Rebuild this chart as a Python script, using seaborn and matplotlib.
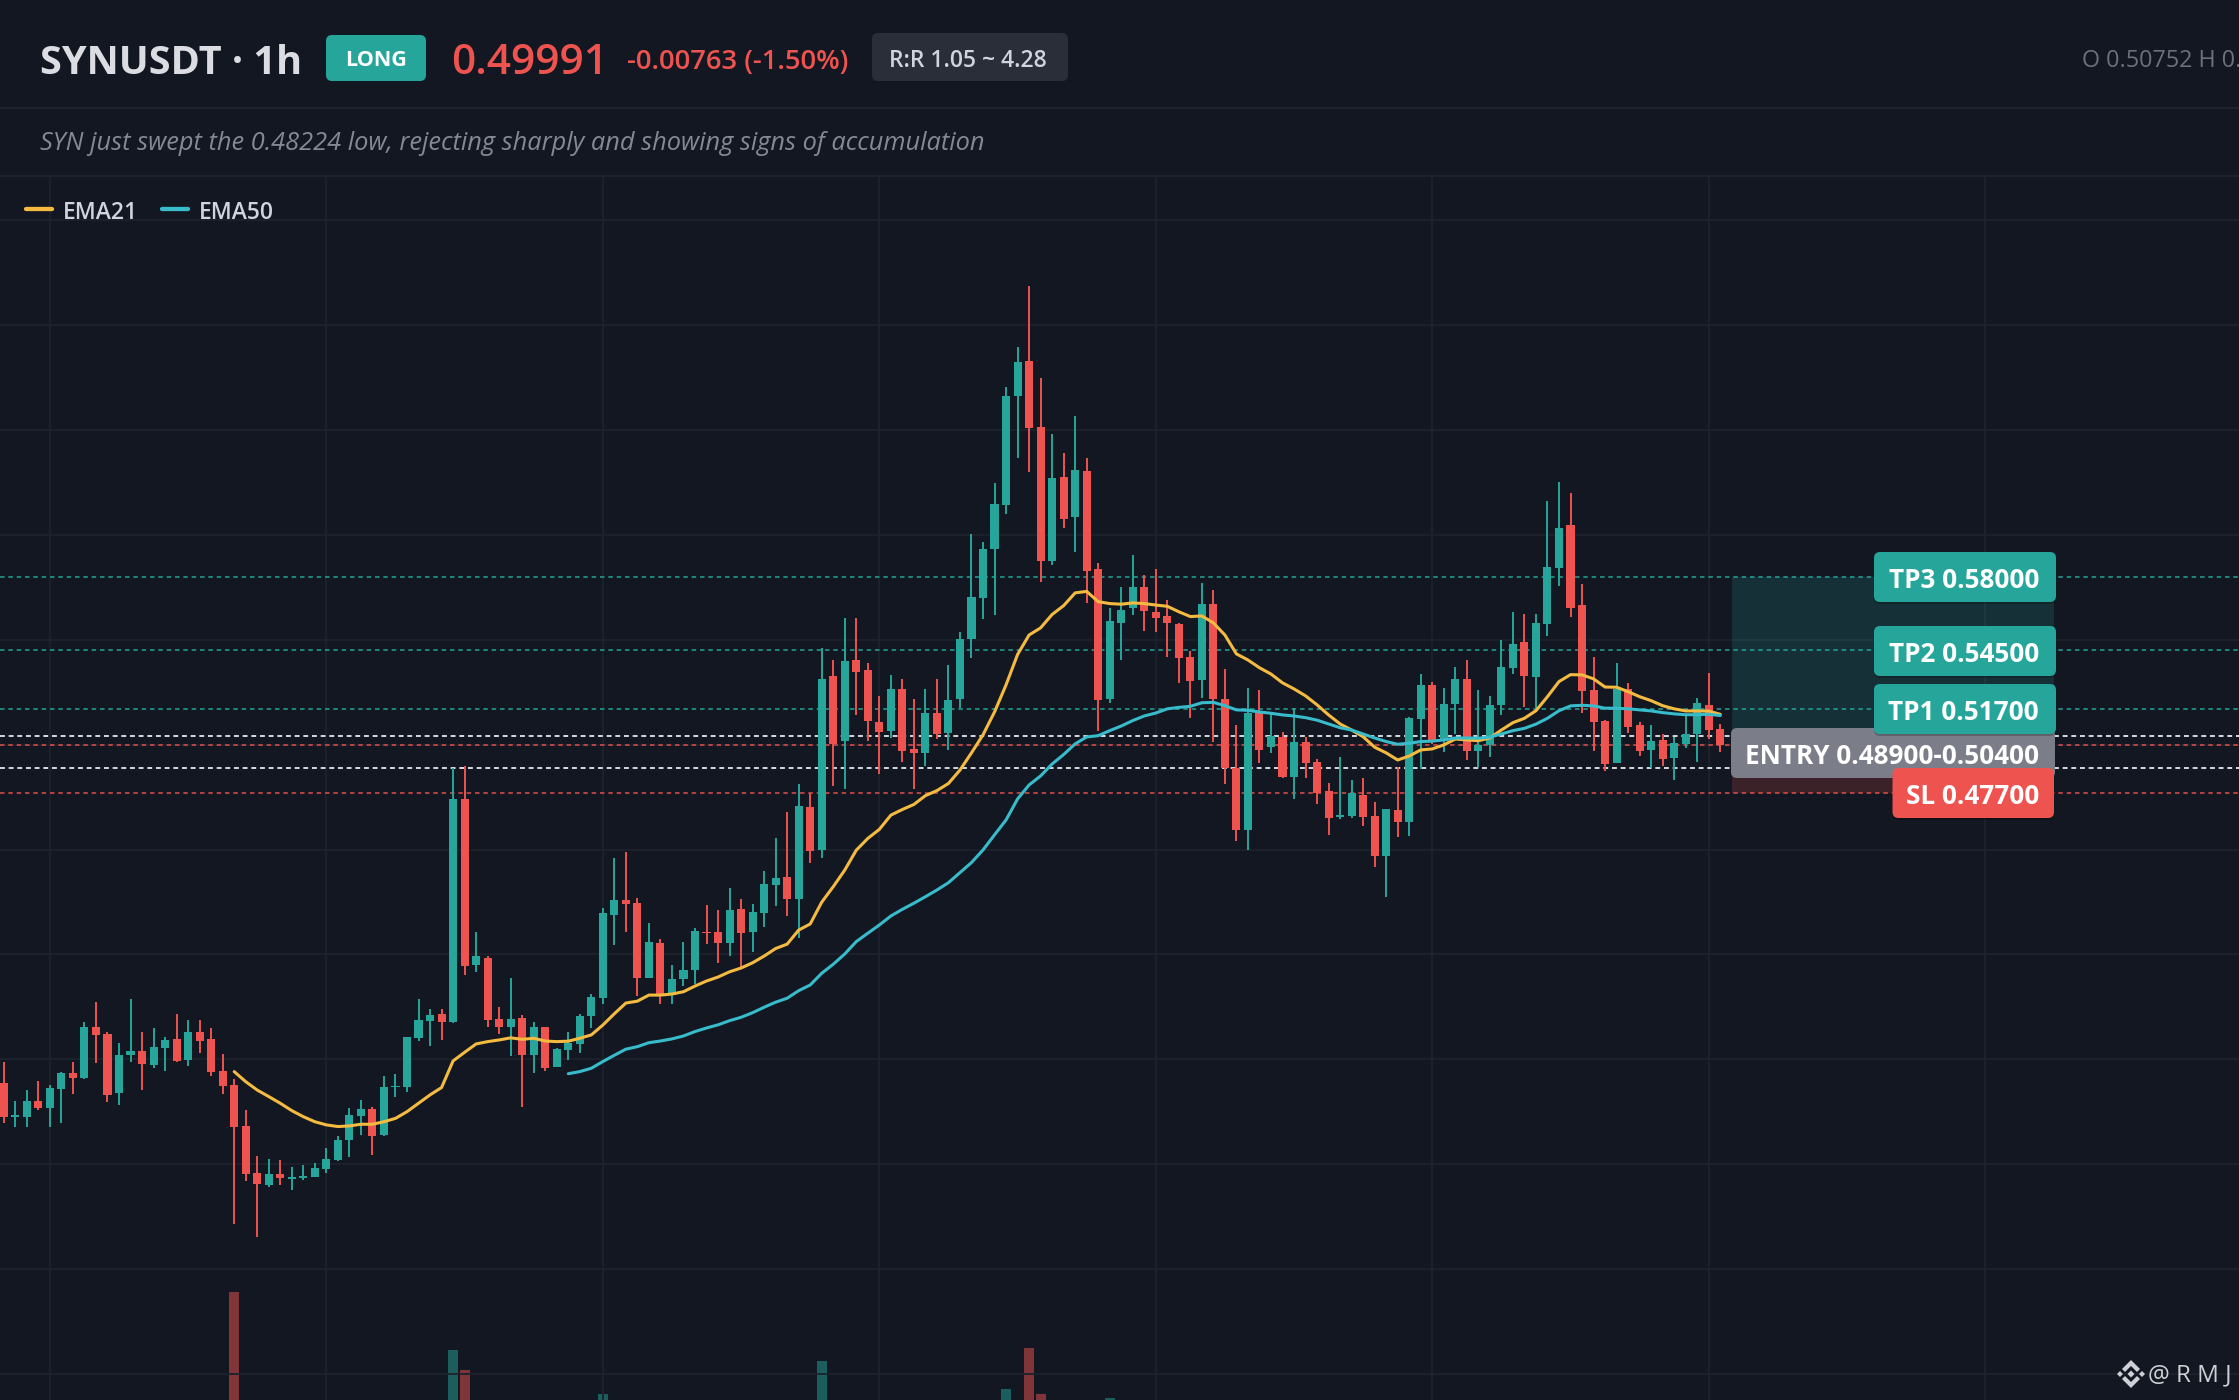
import matplotlib
matplotlib.use("Agg")
import matplotlib.pyplot as plt
import numpy as np
import pandas as pd
import seaborn as sns
from matplotlib.lines import Line2D
from matplotlib.patches import FancyBboxPatch, Polygon, Rectangle
from matplotlib.transforms import Affine2D

BG = "#121721"
GRID = "#1e222d"
TEAL = "#26a69a"
RED = "#ef5350"
AMBER = "#f5bb41"
CYAN = "#38bccb"

opens = [
    .3385, .3226, .3226, .3299, .3269, .3360, .3435, .3411, .3654, .3621,
    .3339, .3522, .3538, .3471, .3554, .3597, .3497, .3629, .3597, .3444,
    .3377, .3182, .2958, .2902, .2953, .2931, .2934, .2940, .2977, .3020,
    .3117, .3229, .3263, .3139, .3366, .3368, .3600, .3684, .3716, .3679,
    .4741, .3950, .3983, .3691, .3652, .3695, .3520, .3652, .3465, .3544,
    .3573, .3706, .3792, .4187, .4259, .4245, .3889, .4054, .3806, .3882,
    .3925, .4108, .4106, .4054, .4216, .4106, .4197, .4331, .4369, .4264,
    .4703, .4497, .5326, .5017, .5405, .5357, .5109, .5065, .5265, .4980,
    .4961, .5150, .5056, .5218, .5505, .5700, .5933, .6141, .6661, .6829,
    .6513, .5874, .6278, .6086, .6307, .5836, .5218, .5580, .5653, .5753,
    .5634, .5612, .5575, .5416, .5309, .5673, .5216, .4888, .4594, .5154,
    .4987, .5038, .4847, .5012, .4917, .4779, .4653, .4661, .4760, .4659,
    .4470, .4688, .4632, .5124, .5284, .5017, .5195, .5311, .4970, .4998,
    .5189, .5365, .5489, .5323, .5575, .5842, .6048, .5666, .5260, .5113,
    .4914, .5265, .5094, .4974, .5022, .4936, .5003, .5051, .5189, .5075,
]
highs = [
    .3485, .3301, .3353, .3396, .3377, .3438, .3487, .3676, .3773, .3632,
    .3576, .3786, .3629, .3648, .3608, .3716, .3687, .3687, .3648, .3525,
    .3404, .3258, .3039, .3024, .3020, .2985, .2996, .3004, .3077, .3132,
    .3268, .3306, .3271, .3420, .3428, .3608, .3786, .3738, .3738, .4889,
    .4899, .4105, .3994, .3748, .3886, .3710, .3679, .3656, .3552, .3629,
    .3716, .3810, .4219, .4458, .4486, .4267, .4148, .4073, .3949, .4057,
    .4124, .4235, .4211, .4315, .4262, .4238, .4396, .4555, .4679, .4812,
    .4771, .5462, .5405, .5603, .5603, .5388, .5231, .5331, .5313, .5218,
    .5265, .5313, .5379, .5539, .6003, .5969, .6249, .6707, .6895, .7188,
    .6751, .6482, .6389, .6569, .6368, .5867, .5654, .5753, .5903, .5811,
    .5836, .5688, .5578, .5449, .5773, .5739, .5359, .5092, .5268, .5260,
    .5149, .5060, .5173, .5038, .4930, .4815, .4939, .4831, .4841, .4725,
    .4693, .4895, .5133, .5335, .5299, .5268, .5370, .5402, .5260, .5232,
    .5499, .5633, .5623, .5623, .6162, .6252, .6201, .5766, .5418, .5117,
    .5388, .5292, .5109, .5094, .5051, .5038, .5141, .5222, .5340, .5098,
]
lows = [
    .3198, .3179, .3179, .3258, .3179, .3198, .3334, .3408, .3484, .3298,
    .3282, .3487, .3353, .3460, .3446, .3487, .3468, .3532, .3420, .3336,
    .2714, .2921, .2654, .2891, .2900, .2876, .2924, .2937, .2959, .3016,
    .3035, .3139, .3043, .3134, .3322, .3346, .3589, .3563, .3592, .3675,
    .3902, .3916, .3656, .3621, .3516, .3274, .3436, .3444, .3462, .3497,
    .3532, .3648, .3763, .4044, .4106, .3801, .3887, .3763, .3763, .3849,
    .3858, .4049, .3958, .3992, .3941, .4011, .4130, .4230, .4183, .4078,
    .4435, .4459, .4804, .4787, .5144, .5017, .4861, .5031, .4918, .4789,
    .4898, .5025, .4974, .5173, .5415, .5598, .5617, .6098, .6365, .6299,
    .5775, .5857, .6034, .5918, .5675, .5063, .5199, .5405, .5617, .5544,
    .5537, .5420, .5294, .5127, .5224, .5014, .4812, .4540, .4497, .4914,
    .4962, .4841, .4742, .4839, .4717, .4569, .4647, .4652, .4613, .4418,
    .4275, .4561, .4564, .4885, .5003, .4965, .5051, .4927, .4892, .4942,
    .5143, .5337, .5181, .5173, .5518, .5757, .5609, .5152, .4971, .4876,
    .4911, .5055, .4946, .4888, .4898, .4831, .4985, .4919, .5027, .4965,
]
closes = [
    .3226, .3233, .3299, .3269, .3361, .3435, .3412, .3654, .3616, .3330,
    .3520, .3538, .3478, .3557, .3592, .3492, .3630, .3587, .3438, .3373,
    .3179, .2953, .2905, .2953, .2934, .2937, .2942, .2981, .3024, .3117,
    .3234, .3263, .3136, .3368, .3373, .3606, .3687, .3711, .3678, .4741,
    .3947, .3993, .3687, .3652, .3691, .3520, .3654, .3458, .3549, .3576,
    .3706, .3796, .4197, .4259, .4240, .3889, .4059, .3806, .3882, .3925,
    .4111, .4102, .4054, .4211, .4102, .4202, .4335, .4364, .4264, .4707,
    .4493, .5314, .5005, .5398, .5348, .5112, .5061, .5265, .4969, .4961,
    .5150, .5049, .5211, .5503, .5704, .5935, .6146, .6664, .6824, .6510,
    .5875, .6273, .6076, .6312, .5826, .5214, .5588, .5641, .5751, .5636,
    .5603, .5580, .5415, .5304, .5673, .5218, .4887, .4594, .5151, .4974,
    .5041, .4844, .5012, .4914, .4768, .4652, .4663, .4768, .4656, .4470,
    .4691, .4632, .5127, .5284, .5022, .5194, .5313, .4971, .4998, .5189,
    .5370, .5480, .5327, .5580, .5848, .6034, .5652, .5256, .5108, .4908,
    .5265, .5084, .4970, .5017, .4931, .5008, .5051, .5198, .5070, .4999,
]

ema21_start = 20
ema21 = [
    .3441, .3393, .3353, .3322, .3290, .3255, .3226, .3202, .3187, .3179,
    .3182, .3190, .3190, .3202, .3218, .3250, .3290, .3330, .3365, .3492,
    .3533, .3573, .3584, .3592, .3602, .3595, .3600, .3587, .3584, .3586,
    .3600, .3616, .3663, .3717, .3768, .3777, .3806, .3806, .3811, .3822,
    .3849, .3873, .3892, .3917, .3935, .3960, .3992, .4028, .4049, .4116,
    .4145, .4249, .4323, .4402, .4497, .4553, .4596, .4664, .4691, .4715,
    .4757, .4781, .4815, .4879, .4961, .5047, .5156, .5285, .5430, .5523,
    .5557, .5621, .5663, .5724, .5731, .5682, .5673, .5670, .5676, .5673,
    .5666, .5660, .5634, .5611, .5614, .5581, .5523, .5433, .5404, .5367,
    .5337, .5295, .5266, .5233, .5190, .5142, .5099, .5070, .5038, .4988,
    .4961, .4927, .4946, .4975, .4980, .4999, .5027, .5023, .5019, .5032,
    .5070, .5105, .5126, .5162, .5229, .5301, .5334, .5333, .5314, .5275,
    .5274, .5253, .5229, .5210, .5186, .5171, .5161, .5161, .5160, .5145,
]
ema50_start = 49
ema50 = [
    .3431, .3441, .3457, .3489, .3519, .3548, .3560, .3579, .3587, .3597,
    .3611, .3632, .3649, .3664, .3684, .3700, .3722, .3748, .3772, .3791,
    .3827, .3854, .3910, .3953, .4002, .4061, .4101, .4140, .4183, .4215,
    .4244, .4275, .4307, .4342, .4390, .4438, .4498, .4570, .4641, .4741,
    .4808, .4851, .4908, .4953, .5004, .5037, .5043, .5067, .5089, .5115,
    .5137, .5151, .5171, .5178, .5183, .5200, .5202, .5186, .5166, .5164,
    .5156, .5150, .5142, .5137, .5129, .5117, .5099, .5081, .5070, .5051,
    .5032, .5015, .5002, .5007, .5015, .5017, .5023, .5032, .5032, .5031,
    .5036, .5051, .5067, .5078, .5098, .5126, .5162, .5185, .5188, .5185,
    .5174, .5174, .5171, .5166, .5161, .5153, .5147, .5143, .5143, .5145, .5139,
]

# only these volume bars reach into the visible part of the picture
volume_index = [20, 39, 40, 52, 71, 87, 89, 90, 96]
volume_values = [138, 80, 60, 36, 69, 41, 82, 36, 32]
volume_side = ["down", "up", "down", "up", "up", "up", "down", "down", "up"]

tp_levels = [0.58, 0.545, 0.517]
entry_levels = [0.504, 0.489]
sl_level = 0.477
last_price = 0.49991

sns.set_theme(style="dark", rc={"figure.facecolor": BG, "axes.facecolor": BG})
plt.rcParams["font.family"] = ["Open Sans", "DejaVu Sans"]

W, H = 2239, 1400
fig = plt.figure(figsize=(W / 100, H / 100), dpi=100)
px = Affine2D().scale(1, -1).translate(0, H)

ax = fig.add_axes([0, 0, 1, 1224 / H])
ax_vol = ax.twinx()
ax.set_zorder(2)
ax_vol.set_zorder(1)
ax.patch.set_visible(False)
ax_vol.patch.set_visible(False)

idx = np.arange(len(closes))
o = np.array(opens)
c = np.array(closes)
candle_colors = [TEAL if b >= a else RED for a, b in zip(opens, closes)]

# volume in its own scale, bars run off the bottom
vol = pd.DataFrame({"i": volume_index, "v": volume_values, "side": volume_side})
sns.barplot(data=vol, x="i", y="v", hue="side", dodge=False, native_scale=True, saturation=1,
            palette={"up": TEAL, "down": RED}, alpha=0.5, width=0.87, linewidth=0,
            edgecolor="none", legend=False, ax=ax_vol)
ax_vol.set_ylim(30, 1254)
ax_vol.set_xlim(-0.33, 194.03)
ax_vol.axis("off")

# levels
for level in tp_levels:
    ax.axhline(level, color=TEAL, alpha=0.9, lw=1.2, ls=(0, (2.7, 2.3)), zorder=1)
for level in entry_levels:
    ax.axhline(level, color="#e6e8ee", lw=1.3, ls=(0, (2.7, 2.1)), zorder=1)
for level in [last_price, sl_level]:
    ax.axhline(level, color=RED, alpha=0.85, lw=1.2, ls=(0, (2.7, 2.3)), zorder=1)

ax.add_patch(Rectangle((150, entry_levels[1]), 28, tp_levels[0] - entry_levels[1],
                       fc=TEAL, alpha=0.19, lw=0, zorder=1.5))
ax.add_patch(Rectangle((150, sl_level), 28, entry_levels[1] - sl_level,
                       fc=RED, alpha=0.19, lw=0, zorder=1.5))

# candles
ax.vlines(idx, lows, highs, colors=candle_colors, lw=1.4, zorder=3)
ax.bar(idx, np.maximum(np.abs(c - o), 0.0006), bottom=np.minimum(o, c), width=0.7,
       color=candle_colors, lw=0, zorder=3)

sns.lineplot(x=idx[ema21_start:], y=ema21, color=AMBER, linewidth=2.2, ax=ax, zorder=4)
sns.lineplot(x=idx[ema50_start:], y=ema50, color=CYAN, linewidth=2.2, ax=ax, zorder=4)

ax.set_xlim(-0.33, 194.03)
ax.set_ylim(0.1875, 0.7712)
ax.set_xticks(np.arange(4, 194, 24))
ax.set_yticks(np.arange(0.20, 0.76, 0.05))
ax.grid(True, color=GRID, lw=1.3)
ax.set_axisbelow(True)
ax.tick_params(length=0, labelbottom=False, labelleft=False)
sns.despine(ax=ax, left=True, bottom=True)


def label(x, y, s, size, color, weight="normal", ha="left", style="normal", z=7):
    return fig.text(x, y, s, transform=px, fontsize=size, color=color, fontweight=weight,
                    ha=ha, va="center", fontstyle=style, zorder=z)


def box(x0, y0, x1, y1, color, z=5, shadow=False):
    if shadow:
        fig.add_artist(FancyBboxPatch((x0 + 6, y0 + 8), x1 - x0 - 12, y1 - y0 - 12,
                                      boxstyle="round,pad=6,rounding_size=6", transform=px,
                                      fc="black", ec="none", alpha=0.22, zorder=z - 0.1))
    fig.add_artist(FancyBboxPatch((x0 + 6, y0 + 6), x1 - x0 - 12, y1 - y0 - 12,
                                  boxstyle="round,pad=6,rounding_size=6", transform=px,
                                  fc=color, ec="none", zorder=z))


# header rows
for y in [108, 176]:
    fig.add_artist(Line2D([0, W], [y, y], transform=px, color=GRID, lw=1.6, zorder=1))

label(40, 64, "SYNUSDT · 1h", 28.5, "#dcdde3", "bold")
box(326, 35, 426, 81, TEAL)
label(376, 61, "LONG", 15.5, "white", "bold", ha="center")
label(451, 63, "0.49991", 30.5, RED, "semibold")
label(627, 62, "-0.00763 (-1.50%)", 19.7, RED, "semibold")
box(872, 33, 1068, 81, "#2a2e39")
label(889, 61, "R:R 1.05 ~ 4.28", 16.5, "#d1d4dc", "semibold")
label(2082, 61, "O 0.50752 H 0.", 16.8, "#6c707b")
label(40, 143, "SYN just swept the 0.48224 low, rejecting sharply and showing signs of accumulation",
      18.3, "#868993", style="italic")

# legend
for x0, x1, color in [(26, 52, AMBER), (162, 188, CYAN)]:
    fig.add_artist(Line2D([x0, x1], [209, 209], transform=px, color=color, lw=3.1,
                          solid_capstyle="round", zorder=6))
label(63, 213, "EMA21", 16.5, "#d1d4dc", "semibold")
label(198.5, 213, "EMA50", 16.5, "#d1d4dc", "semibold")

# level tags
box(1874, 552, 2056, 602, TEAL, z=5.5, shadow=True)
box(1874, 626, 2056, 676, TEAL, z=5.5, shadow=True)
box(1731, 728, 2055, 778, "#7b7d89", z=5)
box(1874, 684, 2056, 734, TEAL, z=5.5, shadow=True)
box(1892.5, 768, 2054, 818, RED, z=5.5, shadow=True)
label(2039, 581, "TP3 0.58000", 18.8, "white", "bold", ha="right")
label(2039, 655, "TP2 0.54500", 18.8, "white", "bold", ha="right")
label(2039, 713, "TP1 0.51700", 18.8, "white", "bold", ha="right")
label(2039, 757, "ENTRY 0.48900-0.50400", 18.8, "white", "bold", ha="right")
label(2039, 797, "SL 0.47700", 18.8, "white", "bold", ha="right")

# watermark
cx, cy = 2131, 1374
mark = "#cfd0d5"
top = [(0, -14), (9, -5), (6, -2), (0, -8), (-6, -2), (-9, -5)]
bottom = [(a, -b) for a, b in top]
for shape in [top, bottom]:
    fig.add_artist(Polygon([(cx + a, cy + b) for a, b in shape], transform=px, fc=mark, ec="none", zorder=6))
for dx, r in [(0, 3.5), (-11, 3), (11, 3)]:
    fig.add_artist(Polygon([(cx + dx - r, cy), (cx + dx, cy - r), (cx + dx + r, cy), (cx + dx, cy + r)],
                           transform=px, fc=mark, ec="none", zorder=6))
label(2148, 1375, "@ R M J", 17.5, mark)

fig.savefig("out.png", dpi=100, facecolor=BG)
